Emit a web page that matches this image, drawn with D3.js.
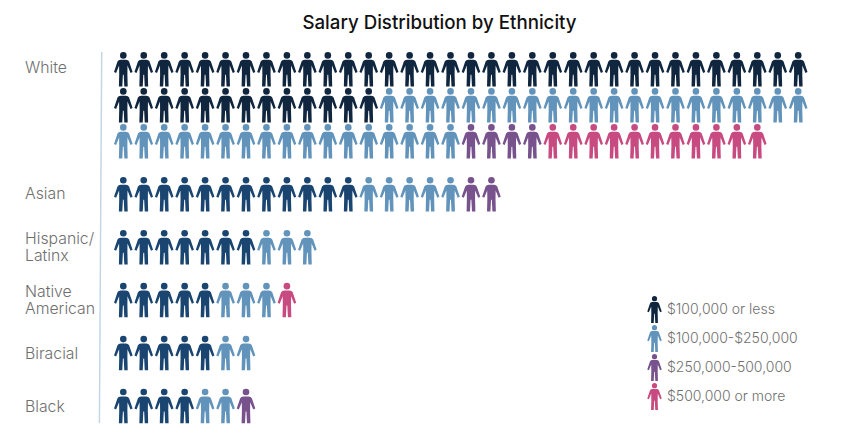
<!DOCTYPE html>
<html>
<head>
<meta charset="utf-8">
<script src="https://cdn.jsdelivr.net/npm/d3@7"></script>
<style>
  html, body { margin: 0; padding: 0; background: #fff; }
  svg { display: block; }
  text { font-family: Inter, "Noto Sans", sans-serif; }
</style>
</head>
<body>
<div id="chart"></div>
<script>
// Each entry is one person icon per count, split by salary band.
const categories = ["White", "Asian", "Hispanic/Latinx", "Native American", "Biracial", "Black"];
const categoryLines = [["White"], ["Asian"], ["Hispanic/", "Latinx"], ["Native", "American"], ["Biracial"], ["Black"]];
const under100k = [47, 12, 7, 5, 5, 4];
const from100to250k = [38, 5, 3, 3, 2, 2];
const from250to500k = [4, 2, 0, 0, 0, 1];
const over500k = [11, 0, 0, 1, 0, 0];
const bandLabels = ["$100,000 or less", "$100,000-$250,000", "$250,000-500,000", "$500,000 or more"];

const bandColors = ["#10263f", "#6294bb", "#77528c", "#c74a80"];
const navyShade = "#1a4570";
const perRow = 34;

const width = 864, height = 434;
const svg = d3.select("#chart").append("svg").attr("width", width).attr("height", height);

// Person glyph, origin at the top of the head, centred horizontally.
const bodyPath = "M-2.6,7.8 L2.6,7.8 Q4.9,7.8 5.8,9.6 L9.3,19.9 L7.2,20.9 L4.2,13.6 L4.1,22.5 L4.4,34.6 L1,34.6 L0.4,22.8 L-0.4,22.8 L-1,34.6 L-4.4,34.6 L-4.1,22.5 L-4.2,13.6 L-7.2,20.9 L-9.3,19.9 L-5.8,9.6 Q-4.9,7.8 -2.6,7.8 Z";

function drawPerson(sel, color) {
  sel.append("circle").attr("cx", 0).attr("cy", 3.4).attr("r", 3.3).attr("fill", color);
  sel.append("path").attr("d", bodyPath).attr("fill", color);
}

// Flatten the counts into one record per icon.
const people = [];
let rowOffset = 0;
categories.forEach((name, c) => {
  const counts = [under100k[c], from100to250k[c], from250to500k[c], over500k[c]];
  let idx = 0;
  counts.forEach((n, band) => {
    d3.range(n).forEach(() => {
      const color = band === 0 && c > 0 ? navyShade : bandColors[band];
      people.push({ c, col: idx % perRow, row: rowOffset + Math.floor(idx / perRow), color });
      idx++;
    });
  });
  rowOffset += Math.ceil(idx / perRow);
});

const x = d3.scaleLinear().domain([0, perRow - 1]).range([123.3, 798.2]);
// Vertical slots: a row is one unit, the gap between groups adds a fraction.
const groupGap = 0.47;
const y = d3.scaleLinear().domain([0, 1]).range([52, 88]);
const slot = d => d.row + d.c * groupGap;

svg.append("g").selectAll("g").data(people).join("g")
  .attr("transform", d => `translate(${x(d.col)},${y(slot(d))})`)
  .each(function (d) { drawPerson(d3.select(this), d.color); });

// Vertical rule beside the category names.
svg.append("line")
  .attr("x1", 101.7).attr("y1", 52).attr("x2", 99.4).attr("y2", 423)
  .attr("stroke", "#c3d6e6").attr("stroke-width", 1.5);

// Category names; two-line names share one text element.
const labelBase = [73, 199, 244, 297, 359, 412];
svg.append("g").selectAll("text").data(categoryLines).join("text")
  .attr("font-size", 15.8).attr("font-weight", 300).attr("fill", "#6f6f6f")
  .each(function (lines, i) {
    d3.select(this).selectAll("tspan").data(lines).join("tspan")
      .attr("x", 25)
      .attr("y", (t, j) => labelBase[i] + j * 16.5)
      .text(t => t);
  });

// Title.
svg.append("text").attr("x", 439.5).attr("y", 29)
  .attr("text-anchor", "middle").attr("font-size", 18.7).attr("font-weight", 500)
  .attr("fill", "#111").text("Salary Distribution by Ethnicity");

// Legend.
const legendY = d3.scaleLinear().domain([0, 3]).range([296, 383]);
const legend = svg.append("g").selectAll("g").data(bandLabels).join("g");
legend.append("g")
  .attr("transform", (d, i) => `translate(654.5,${legendY(i)}) scale(0.78)`)
  .each(function (d, i) { drawPerson(d3.select(this), bandColors[i]); });
legend.append("text")
  .attr("x", 667).attr("y", (d, i) => legendY(i) + 17.5)
  .attr("font-size", 14).attr("font-weight", 300)
  .attr("fill", "#6f6f6f").text(d => d);
</script>
</body>
</html>
